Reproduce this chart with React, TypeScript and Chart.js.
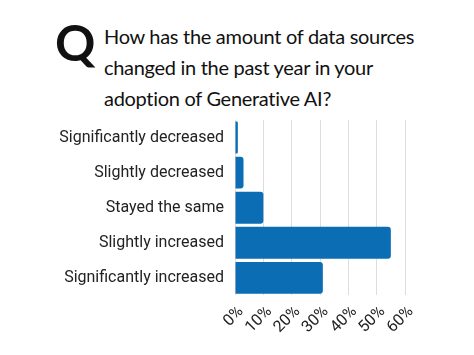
import React, { useEffect, useRef } from "react";
import { Chart, registerables } from "chart.js";

Chart.register(...registerables);

const questionLines = [
  "How has the amount of data sources",
  "changed in the past year in your",
  "adoption of Generative AI?",
];
const categories = [
  "Significantly decreased",
  "Slightly decreased",
  "Stayed the same",
  "Slightly increased",
  "Significantly increased",
];
const percentValues = [1, 3, 10, 55, 31];
const xMax = 60;
const xStep = 10;

export default function App() {
  const canvasRef = useRef<HTMLCanvasElement | null>(null);

  useEffect(() => {
    document.body.style.margin = "0";
    const ctx = canvasRef.current;
    if (!ctx) return;
    const chart = new Chart(ctx, {
      type: "bar",
      data: {
        labels: categories,
        datasets: [
          {
            data: percentValues,
            backgroundColor: "#0B6DB3",
            borderRadius: 3,
            borderSkipped: "start",
            barPercentage: 0.91,
            categoryPercentage: 1,
          },
        ],
      },
      options: {
        indexAxis: "y",
        animation: false,
        responsive: false,
        maintainAspectRatio: false,
        layout: { padding: { left: 0, right: 69, top: 120, bottom: 11 } },
        plugins: {
          legend: { display: false },
          tooltip: { enabled: false },
        },
        scales: {
          x: {
            min: 0,
            max: xMax,
            border: { display: false },
            grid: { color: "#dddddd", lineWidth: 1, drawTicks: false },
            ticks: {
              stepSize: xStep,
              autoSkip: false,
              minRotation: 45,
              maxRotation: 45,
              padding: 7,
              labelOffset: 6,
              color: "#222222",
              font: { family: "Roboto", size: 16 },
              callback: (v: any) => v + "%",
            },
          },
          y: {
            border: { display: false },
            grid: { display: false },
            afterFit: (scale: any) => {
              scale.width = 235;
            },
            ticks: {
              padding: 3,
              color: "#222222",
              font: { family: "Roboto", size: 16 },
            },
          },
        },
      },
    });
    return () => chart.destroy();
  }, []);

  return (
    <div style={{ position: "absolute", left: 0, top: 0, width: 474, height: 355, background: "#fff" }}>
      <div
        style={{
          position: "absolute",
          left: 55,
          top: 12,
          fontFamily: "Lato",
          fontWeight: 700,
          fontSize: 50,
          lineHeight: "60px",
          color: "#111",
        }}
      >
        Q
      </div>
      <div
        style={{
          position: "absolute",
          left: 104,
          top: 21,
          whiteSpace: "nowrap",
          fontFamily: "Lato",
          fontSize: 20,
          letterSpacing: "-0.3px",
          lineHeight: "31px",
          color: "#111",
        }}
      >
        {questionLines.map((l, i) => (
          <div key={i}>{l}</div>
        ))}
      </div>
      <canvas ref={canvasRef} width={474} height={355} style={{ position: "absolute", left: 0, top: 0 }} />
    </div>
  );
}
